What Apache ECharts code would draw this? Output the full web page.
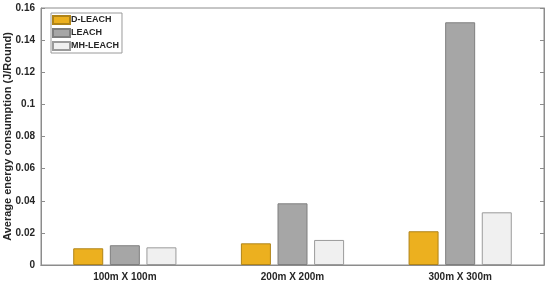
<!DOCTYPE html>
<html lang="en">
<head>
    <meta charset="UTF-8">
    <title>Average energy consumption</title>
    <style>
        html, body { margin: 0; padding: 0; background: #fff; }
        #chart { width: 550px; height: 286px; }
    </style>
</head>
<body>
    <div id="chart"></div>
    <script src="https://cdn.jsdelivr.net/npm/echarts@6/dist/echarts.min.js"></script>
    <script>
        // data
        var areas = ['100m X 100m', '200m X 200m', '300m X 300m'];
        var dLeach = [0.0104, 0.0135, 0.0210];
        var leach = [0.0123, 0.0384, 0.1511];
        var mhLeach = [0.0110, 0.0156, 0.0328];
        var yTicks = [0, 0.02, 0.04, 0.06, 0.08, 0.1, 0.12, 0.14, 0.16];

        var axisGray = '#8c8c8c';
        var txt = '#262626';
        var font = 'Arial, "Liberation Sans", sans-serif';

        var myChart = echarts.init(document.getElementById('chart'));

        function bar(name, data, color, border) {
            return {
                name: name,
                type: 'bar',
                data: data,
                barWidth: 30,
                barGap: '22%',
                itemStyle: { color: color, borderColor: border, borderWidth: 1 }
            };
        }

        var option = {
            animation: false,
            textStyle: { fontFamily: font },
            grid: {
                left: 41, right: 6, top: 8, bottom: 21,
                containLabel: false, outerBoundsMode: 'none',
                show: true, borderColor: axisGray, borderWidth: 1
            },
            legend: {
                orient: 'vertical',
                left: 51,
                top: 13,
                icon: 'rect',
                itemWidth: 17,
                itemHeight: 8,
                itemGap: 3,
                padding: [2, 3, 2, 1],
                borderColor: '#9a9a9a',
                borderWidth: 1,
                backgroundColor: '#fff',
                textStyle: { fontSize: 9, fontWeight: 'bold', color: txt, padding: [0, 0, 0, -4] },
                data: ['D-LEACH', 'LEACH', 'MH-LEACH']
            },
            xAxis: [{
                type: 'category',
                data: areas,
                axisLine: { lineStyle: { color: axisGray } },
                axisTick: { inside: true, alignWithLabel: true, length: 4, lineStyle: { color: axisGray } },
                axisLabel: { color: txt, fontSize: 10, fontWeight: 'bold', margin: 7 }
            }, {
                type: 'category',
                data: areas,
                position: 'top',
                axisLine: { lineStyle: { color: axisGray } },
                axisTick: { inside: true, alignWithLabel: true, length: 4, lineStyle: { color: axisGray } },
                axisLabel: { show: false }
            }],
            yAxis: [{
                type: 'value',
                min: 0,
                max: 0.16,
                interval: 0.02,
                name: 'Average energy consumption (J/Round)',
                nameLocation: 'middle',
                nameGap: 28,
                nameMoveOverlap: false,
                nameTextStyle: { color: txt, fontSize: 11, fontWeight: 'bold' },
                axisLine: { show: true, lineStyle: { color: axisGray } },
                axisTick: { show: true, inside: true, length: 4, lineStyle: { color: axisGray } },
                splitLine: { show: false },
                axisLabel: {
                    color: txt, fontSize: 10, fontWeight: 'bold', margin: 6,
                    formatter: function (v) {
                        var t = yTicks.find(function (y) { return Math.abs(y - v) < 1e-9; });
                        return t === undefined ? '' : String(t);
                    }
                }
            }, {
                type: 'value',
                min: 0,
                max: 0.16,
                interval: 0.02,
                position: 'right',
                axisLine: { show: true, lineStyle: { color: axisGray } },
                axisTick: { show: true, inside: true, length: 4, lineStyle: { color: axisGray } },
                splitLine: { show: false },
                axisLabel: { show: false }
            }],
            series: [
                bar('D-LEACH', dLeach, '#ecb01f', '#b08418'),
                bar('LEACH', leach, '#a6a6a6', '#7f7f7f'),
                bar('MH-LEACH', mhLeach, '#f0f0f0', '#9a9a9a')
            ]
        };
        myChart.setOption(option);
    </script>
</body>
</html>
